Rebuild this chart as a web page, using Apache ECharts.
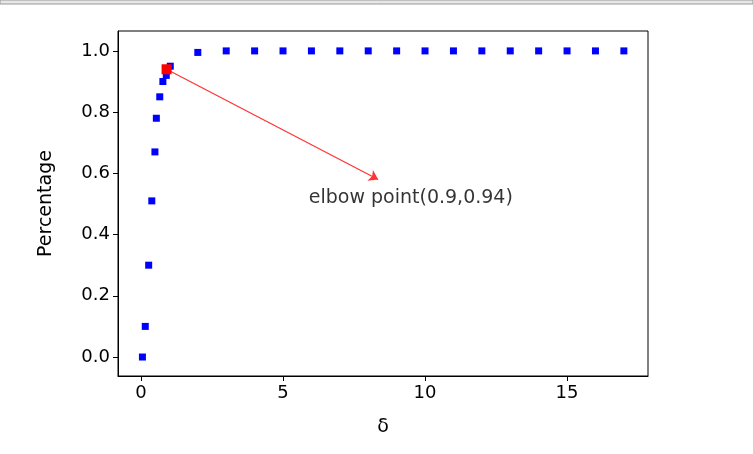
<!DOCTYPE html><html><head><meta charset="utf-8"><script src="https://cdn.jsdelivr.net/npm/echarts@6/dist/echarts.min.js"></script></head>
<body style="margin:0;background:#fff"><div id="c" style="width:753px;height:454px"></div>
<script>
const xVals=[0.05,0.15,0.27,0.38,0.49,0.54,0.66,0.77,0.89,1.03,2,3,4,5,6,7,8,9,10,11,12,13,14,15,16,17];
const yVals=[0,0.10,0.30,0.51,0.67,0.78,0.85,0.90,0.92,0.95,0.995,1,1,1,1,1,1,1,1,1,1,1,1,1,1,1];
const elbow=[0.9,0.94];
const arrowEnd=[8.35,0.58];
const labelPos=[9.5,0.52];
const labelText='elbow point(0.9,0.94)';
const xTicks=[0,5,10,15];
const yTicks=[0,0.2,0.4,0.6,0.8,1.0];
const font='DejaVu Sans';
const ch=echarts.init(document.getElementById('c'));
ch.setOption({animation:false,
grid:{left:118,right:105,top:31,bottom:78},
xAxis:{type:'value',min:-0.81,max:17.85,name:'δ',nameLocation:'middle',nameGap:42,
 nameTextStyle:{color:'#000',fontSize:19,fontFamily:font},
 axisLine:{onZero:false,lineStyle:{color:'#000'}},splitLine:{show:false},
 axisLabel:{color:'#000',fontSize:18,fontFamily:font,showMinLabel:true,showMaxLabel:true,hideOverlap:false,customValues:xTicks},
 axisTick:{show:true,customValues:xTicks,length:5,lineStyle:{color:'#000'}}},
yAxis:{type:'value',min:-0.062,max:1.065,name:'Percentage',nameLocation:'middle',nameGap:62,
 nameTextStyle:{color:'#000',fontSize:19,fontFamily:font},
 axisLine:{show:true,onZero:false,lineStyle:{color:'#000'}},splitLine:{show:false},
 axisLabel:{color:'#000',fontSize:18,fontFamily:font,showMinLabel:true,showMaxLabel:true,hideOverlap:false,customValues:yTicks,formatter:v=>v.toFixed(1)},
 axisTick:{show:true,customValues:yTicks,length:5,lineStyle:{color:'#000'}}},
graphic:[{type:'rect',shape:{x:118,y:31,width:530,height:345},style:{fill:'none',stroke:'#000',lineWidth:1},silent:true},
 {type:'rect',shape:{x:0,y:0,width:753,height:4},style:{fill:'#e6e6e6',stroke:'#999'}}],
series:[{type:'scatter',symbol:'rect',symbolSize:7,itemStyle:{color:'#0000ff',opacity:1},data:xVals.map((x,i)=>[x,yVals[i]]),
 markLine:{silent:true,symbol:['none','arrow'],symbolSize:9,label:{show:false},lineStyle:{color:'#ff3333',type:'solid',width:1.2,opacity:1},
  data:[[{coord:elbow},{coord:arrowEnd}]]}},
 {type:'scatter',symbol:'rect',symbolSize:10,itemStyle:{color:'#ff0000',opacity:1},data:[elbow],z:5},
 {type:'scatter',symbolSize:0,data:[labelPos],label:{show:true,position:'inside',formatter:labelText,color:'#000',fontSize:19,fontFamily:font}}]
});
</script></body></html>
